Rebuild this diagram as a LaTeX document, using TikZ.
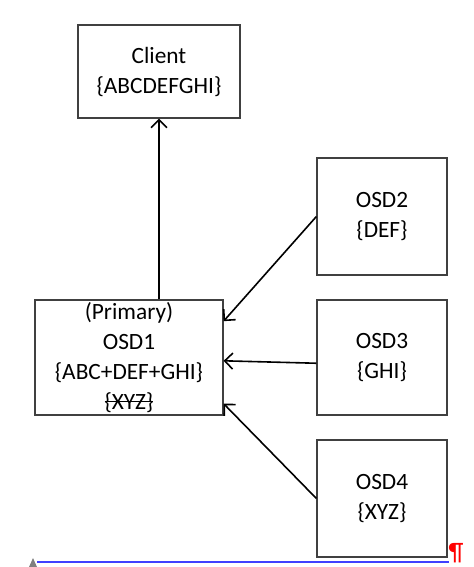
\documentclass[tikz,border=0pt]{standalone}
\usepackage{fontspec}
\setmainfont{Carlito}
\usetikzlibrary{arrows.meta}
\newcommand{\strikeout}[1]{\setbox0\hbox{#1}\rlap{\rule[0.3em]{\wd0}{0.06em}}\box0}
\tikzset{
    box/.style={draw=black!75, line width=0.9pt, align=center, inner sep=0pt,
        font=\fontsize{17.5}{22.5}\selectfont}, % every block of the diagram
    arr/.style={line width=1.2pt, -{Straight Barb[length=6pt,width=12pt]}}, % connectors
}
\begin{document}
\begin{tikzpicture}[x=0.75pt,y=-0.75pt]
    \useasboundingbox (0,0) rectangle (474,567);

    \node[box, minimum width=121.5pt, minimum height=69.75pt] (client) at (159,71.5) {Client\\\{ABCDEFGHI\}};
    \node[box, minimum width=141pt, minimum height=86.25pt] (osd1) at (129,357.5) {(Primary)\\OSD1\\\{ABC+DEF+GHI\}\\\strikeout{\{XYZ\}}};
    \node[box, minimum width=97.5pt, minimum height=87.75pt] (osd2) at (382,216.5) {OSD2\\\{DEF\}};
    \node[box, minimum width=97.5pt, minimum height=86.25pt] (osd3) at (382,357.5) {OSD3\\\{GHI\}};
    \node[box, minimum width=97.5pt, minimum height=87.75pt] (osd4) at (382,498.5) {OSD4\\\{XYZ\}};

    \draw[arr] (osd1.north -| client.south) -- (client.south);
    \draw[arr] (osd2.west) -- (osd1.21);
    \draw[arr] (osd3.185) -- (osd1.-2);
    \draw[arr] (osd4.west) -- (osd1.-26);

    % page marks
    \draw[blue!75, line width=0.8pt] (37,562) -- (449,562);
    \fill[gray] (29,567) -- (33,558) -- (37,567) -- cycle;
    \node[red, anchor=south, inner sep=0pt, font=\fontsize{19}{22}\selectfont] (pil) at (456,563) {¶};
\end{tikzpicture}
\end{document}
